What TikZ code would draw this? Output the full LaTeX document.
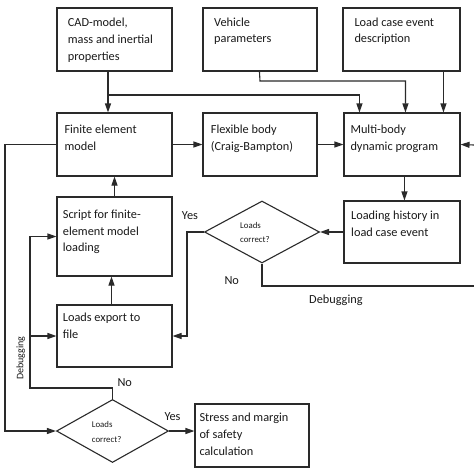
\documentclass[tikz,border=0pt]{standalone}
\usepackage{fontspec}
\setmainfont{Carlito}
\usetikzlibrary{shapes.geometric,arrows.meta}
\definecolor{ln}{HTML}{2A2A2A}
\definecolor{tx}{HTML}{1A1A1A}
\begin{document}
\begin{tikzpicture}[x=1pt,y=-1pt,
  box/.style={draw=ln,line width=1.1pt,rectangle,inner sep=0pt},
  dia/.style={draw=ln,line width=1.1pt,diamond,inner sep=0pt,aspect=1.8},
  txt/.style={anchor=north west,inner sep=0pt,align=left,text=tx,font=\fontsize{12.3}{16.7}\selectfont},
  dtxt/.style={anchor=north west,inner sep=0pt,align=left,text=tx,font=\fontsize{8.8}{14.4}\selectfont},
  lbl/.style={anchor=base west,inner sep=0pt,text=tx,font=\fontsize{12.3}{16.7}\selectfont},
  con/.style={draw=ln,line width=1.1pt},
  arr/.style={con,-{Triangle[length=9pt,width=6pt]}}]
\useasboundingbox[fill=white] (0,0) rectangle (474,474);
% boxes
\node[box,minimum width=115pt,minimum height=63pt] (cad) at (114.5,39.5) {};
\node[box,minimum width=114pt,minimum height=63pt] (veh) at (260,39.5) {};
\node[box,minimum width=117pt,minimum height=63pt] (load) at (401.5,39.5) {};
\node[box,minimum width=115pt,minimum height=63pt] (fe) at (114.5,144.5) {};
\node[box,minimum width=114pt,minimum height=63pt] (flex) at (260,144.5) {};
\node[box,minimum width=116pt,minimum height=63pt] (multi) at (402,144.5) {};
\node[box,minimum width=115pt,minimum height=79pt] (script) at (114.5,236.5) {};
\node[box,minimum width=115pt,minimum height=62pt] (export) at (114.5,336) {};
\node[box,minimum width=116pt,minimum height=62pt] (hist) at (402,232) {};
\node[box,minimum width=114pt,minimum height=63pt] (stress) at (252,435.5) {};
\node[dia,minimum width=115pt,minimum height=62pt] (d1) at (262,232) {};
\node[dia,minimum width=112pt,minimum height=63pt] (d2) at (112.5,431) {};
% texts
\node[txt] (tcad) at (67.7,15) {\strut CAD-model,\\mass and inertial\\properties};
\node[txt] (tveh) at (214,14.3) {\strut Vehicle\\parameters};
\node[txt] (tload) at (354.3,14.3) {\strut Load case event\\description};
\node[txt] (tfe) at (64.3,121.6) {\strut Finite element\\model};
\node[txt] (tflex) at (210.7,121.5) {\strut Flexible body\\(Craig-Bampton)};
\node[txt] (tmulti) at (350.3,121.6) {\strut Multi-body\\dynamic program};
\node[txt] (tscript) at (62.7,206.6) {\strut Script for finite-\\element model\\loading};
\node[txt] (texport) at (62.7,310) {\strut Loads export to\\file};
\node[txt] (thist) at (351,207.6) {\strut Loading history in\\load case event};
\node[txt] (tstress) at (199.3,410) {\strut Stress and margin\\of safety\\calculation};
\node[dtxt] (td1) at (240,218.2) {\strut Loads\\correct?};
\node[dtxt] (td2) at (91.7,417.6) {\strut Loads\\correct?};
% labels
\node[lbl] (yes1) at (181.7,219.3) {Yes};
\node[lbl] (no1) at (224.3,284) {No};
\node[lbl] (dbg1) at (309,303) {Debugging};
\node[lbl] (no2) at (117.3,386.7) {No};
\node[lbl] (yes2) at (164.3,420.7) {Yes};
\node[anchor=base,inner sep=0pt,text=tx,rotate=90,font=\fontsize{10}{12}\selectfont] (dbg2) at (23.3,358) {Debugging};
% coordinates
\coordinate (j1) at (108,95);
\coordinate (v1) at (260,81);
\coordinate (r1) at (474,145);
\coordinate (r2) at (474,286);
\coordinate (c187) at (187,300);
\coordinate (l1) at (5,300);
\coordinate (l2) at (30,388);
% connectors
\draw[arr] ([xshift=-6.5pt]cad.south) -- ([xshift=-6.5pt]fe.north);
\draw[arr] (j1) -| ([xshift=16pt]multi.north west);
\draw[arr] ([xshift=57pt]veh.south west) -- (v1) -| ([xshift=62pt]multi.north west);
\draw[arr] ([xshift=101pt]load.south west) -- ([xshift=100pt]multi.north west);
\draw[arr] (fe.east) -- (flex.west);
\draw[arr] (flex.east) -- (multi.west);
\draw[arr] (r1) -- (multi.east);
\draw[arr] ([xshift=61pt]multi.south west) -- ([xshift=61pt]hist.north west);
\draw[arr] (hist.west) -- (d1.east);
\draw[arr] (d1.west) -| (c187) |- (export.east);
\draw[con] (d1.south) |- (r2);
\draw[arr] (script.north) -- (fe.south);
\draw[arr] ([xshift=-3pt]export.north) -- ([xshift=-3pt]script.south);
\draw[arr] (fe.west) -| (l1) |- (d2.west);
\draw[arr] (d2.north) |- (l2) |- (script.west);
\draw[arr] (export.west -| l2) -- (export.west);
\draw[arr] (d2.east) -- (d2.east -| stress.west);
\end{tikzpicture}
\end{document}
